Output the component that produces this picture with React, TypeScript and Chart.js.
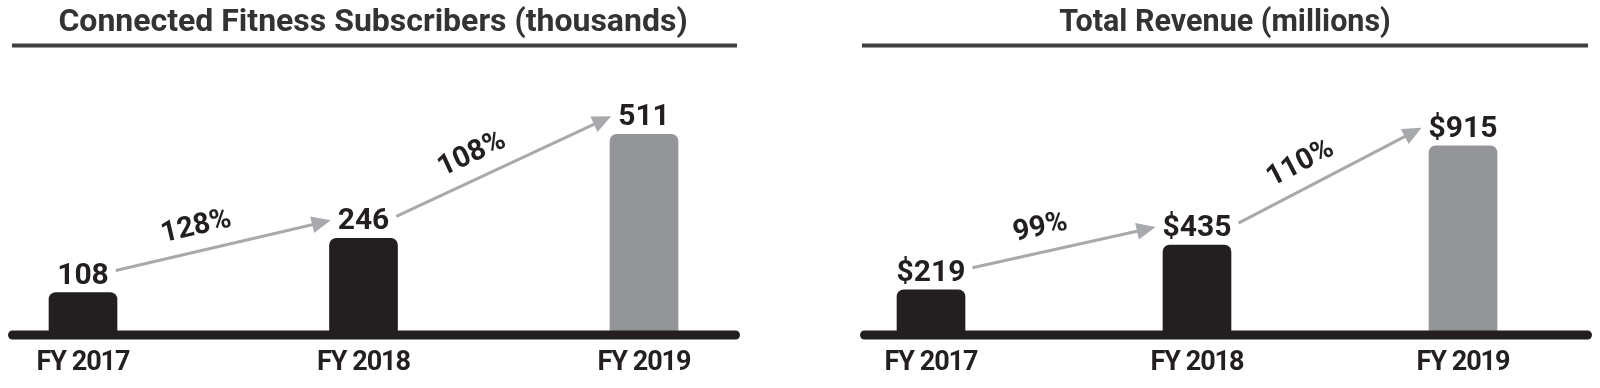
import React, { useEffect, useRef } from 'react';
import { Chart, registerables } from 'chart.js';

Chart.register(...registerables);

// ---- data ----
const years = ['FY 2017', 'FY 2018', 'FY 2019'];

const subscriberTitle = 'Connected Fitness Subscribers (thousands)';
const subscribers = [108, 246, 511];
const subscriberLabels = ['108', '246', '511'];
const subscriberGrowth = ['128%', '108%'];

const revenueTitle = 'Total Revenue (millions)';
const revenue = [219, 435, 915];
const revenueLabels = ['$219', '$435', '$915'];
const revenueGrowth = ['99%', '110%'];

const barColors = ['#231f20', '#231f20', '#939598'];

// ---- styles ----
const FONT = 'Roboto';
const DARK = '#231f20';
const ARROW = '#a7a9ac';

type Panel = {
  title: string;
  values: number[];
  valueLabels: string[];
  growth: string[];
  yMax: number;
  padLeft: number;
  padRight: number;
  titleX: number;
  titleSize: number;
  sepFrom: number;
  sepTo: number;
  baseFrom: number;
  baseTo: number;
};

const leftPanel: Panel = {
  title: subscriberTitle,
  values: subscribers,
  valueLabels: subscriberLabels,
  growth: subscriberGrowth,
  yMax: 700,
  padLeft: 83,
  padRight: 156,
  titleX: 373,
  titleSize: 32,
  sepFrom: 12,
  sepTo: 737,
  baseFrom: 12.5,
  baseTo: 735.5,
};

const rightPanel: Panel = {
  title: revenueTitle,
  values: revenue,
  valueLabels: revenueLabels,
  growth: revenueGrowth,
  yMax: 1330,
  padLeft: 131,
  padRight: 137,
  titleX: 425,
  titleSize: 30.5,
  sepFrom: 62,
  sepTo: 788,
  baseFrom: 64.5,
  baseTo: 787.5,
};

function drawArrow(ctx: CanvasRenderingContext2D, x1: number, y1: number, x2: number, y2: number) {
  const a = Math.atan2(y2 - y1, x2 - x1);
  const head = 19;
  const hw = 8.5;
  const bx = x2 - head * Math.cos(a);
  const by = y2 - head * Math.sin(a);
  ctx.save();
  ctx.strokeStyle = ARROW;
  ctx.fillStyle = ARROW;
  ctx.lineWidth = 3;
  ctx.beginPath();
  ctx.moveTo(x1, y1);
  ctx.lineTo(bx + Math.cos(a), by + Math.sin(a));
  ctx.stroke();
  ctx.beginPath();
  ctx.moveTo(x2, y2);
  ctx.lineTo(bx + hw * Math.sin(a), by - hw * Math.cos(a));
  ctx.lineTo(bx - hw * Math.sin(a), by + hw * Math.cos(a));
  ctx.closePath();
  ctx.fill();
  ctx.restore();
}

function makePlugin(p: Panel) {
  return {
    id: 'panelDecor',
    beforeDraw(chart: any) {
      const ctx = chart.ctx as any;
      ctx.letterSpacing = '-1px';
    },
    beforeDatasetsDraw(chart: any) {
      const ctx = chart.ctx as any;
      ctx.letterSpacing = '0px';
    },
    afterDatasetsDraw(chart: any) {
      const ctx = chart.ctx as CanvasRenderingContext2D;
      (ctx as any).letterSpacing = '0px';
      const yScale = chart.scales.y;
      const meta = chart.getDatasetMeta(0);

      // title
      ctx.save();
      ctx.fillStyle = '#333333';
      ctx.font = `bold ${p.titleSize}px ${FONT}`;
      ctx.textAlign = 'center';
      ctx.textBaseline = 'alphabetic';
      ctx.fillText(p.title, p.titleX, 30.5);
      // separator
      ctx.strokeStyle = '#404040';
      ctx.lineWidth = 4;
      ctx.beginPath();
      ctx.moveTo(p.sepFrom, 45.5);
      ctx.lineTo(p.sepTo, 45.5);
      ctx.stroke();

      // baseline
      const y0 = yScale.getPixelForValue(0);
      ctx.strokeStyle = DARK;
      ctx.lineWidth = 9;
      ctx.lineCap = 'round';
      ctx.beginPath();
      ctx.moveTo(p.baseFrom, y0);
      ctx.lineTo(p.baseTo, y0);
      ctx.stroke();
      ctx.restore();

      // value labels
      ctx.save();
      ctx.font = `bold 30px ${FONT}`;
      ctx.fillStyle = DARK;
      ctx.textAlign = 'center';
      ctx.textBaseline = 'alphabetic';
      const boxes: { x: number; y: number; w: number }[] = [];
      meta.data.forEach((bar: any, i: number) => {
        const txt = p.valueLabels[i];
        const yb = bar.y - 9;
        ctx.fillText(txt, bar.x, yb);
        boxes.push({ x: bar.x, y: yb, w: ctx.measureText(txt).width });
      });
      ctx.restore();

      // arrows + growth labels
      for (let i = 0; i < boxes.length - 1; i++) {
        const a = boxes[i];
        const b = boxes[i + 1];
        const x1 = a.x + a.w / 2 + 7;
        const y1 = a.y - 13;
        const x2 = b.x - b.w / 2 - 7;
        const y2 = b.y - 9;
        drawArrow(ctx, x1, y1, x2, y2);
        const ang = Math.atan2(y2 - y1, x2 - x1);
        const mx = x1 + (x2 - x1) * 0.4 + Math.sin(ang) * 24;
        const my = y1 + (y2 - y1) * 0.4 - Math.cos(ang) * 24;
        ctx.save();
        ctx.translate(mx, my);
        ctx.rotate(ang);
        ctx.font = `bold 29px ${FONT}`;
        ctx.fillStyle = DARK;
        ctx.textAlign = 'center';
        ctx.textBaseline = 'middle';
        ctx.fillText(p.growth[i], 0, 0);
        ctx.restore();
      }
    },
  };
}

function PanelChart({ p, left }: { p: Panel; left: number }) {
  const ref = useRef<HTMLCanvasElement | null>(null);
  useEffect(() => {
    if (!ref.current) return;
    const chart = new Chart(ref.current, {
      type: 'bar',
      data: {
        labels: years,
        datasets: [
          {
            data: p.values,
            backgroundColor: barColors,
            borderRadius: 7,
            borderSkipped: 'start',
            barThickness: 68,
            clip: false as any,
          },
        ],
      },
      options: {
        responsive: false,
        animation: false,
        devicePixelRatio: 1,
        layout: { padding: { left: p.padLeft, right: p.padRight, top: 60, bottom: 0 } },
        plugins: {
          legend: { display: false },
          tooltip: { enabled: false },
          title: { display: false },
        },
        scales: {
          x: {
            offset: false,
            grid: { display: false, drawTicks: false },
            border: { display: false },
            ticks: {
              color: DARK,
              padding: 12,
              font: { family: FONT, size: 27, weight: 'bold' },
              maxRotation: 0,
              autoSkip: false,
            },
            afterFit: (s: any) => {
              s.height = 53;
            },
          },
          y: {
            display: false,
            min: 0,
            max: p.yMax,
          },
        },
      },
      plugins: [makePlugin(p)],
    });
    return () => chart.destroy();
  }, [p]);
  return (
    <canvas
      ref={ref}
      width={800}
      height={388}
      style={{ position: 'absolute', left, top: 0, width: 800, height: 388 }}
    />
  );
}

export default function App() {
  return (
    <div style={{ position: 'absolute', left: 0, top: 0, width: 1600, height: 388, background: '#ffffff' }}>
      <PanelChart p={leftPanel} left={0} />
      <PanelChart p={rightPanel} left={800} />
    </div>
  );
}
